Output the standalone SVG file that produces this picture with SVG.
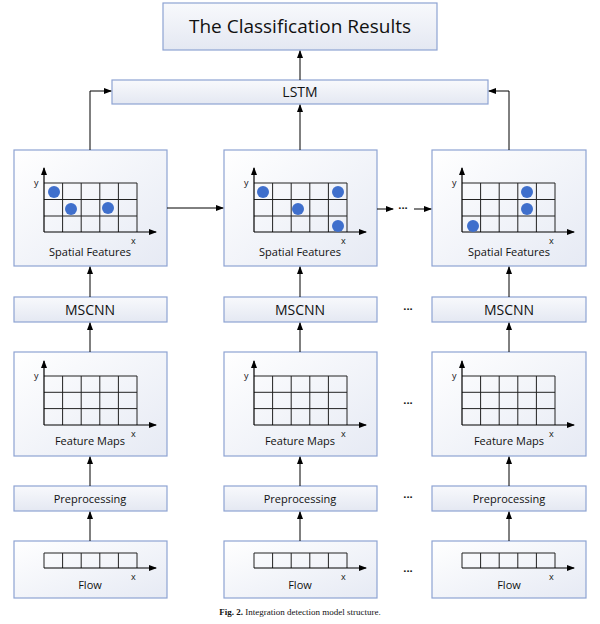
<svg xmlns="http://www.w3.org/2000/svg" width="600" height="624" viewBox="0 0 600 624">
<defs>
<linearGradient id="g" x1="0" y1="0" x2="1" y2="1"><stop offset="0" stop-color="#ffffff"/><stop offset="1" stop-color="#e6eaf4"/></linearGradient>
<linearGradient id="g2" x1="0" y1="0" x2="0" y2="1"><stop offset="0" stop-color="#f8f9fc"/><stop offset="1" stop-color="#e4e8f2"/></linearGradient>
<marker id="a" markerWidth="8" markerHeight="8" refX="7" refY="4" orient="auto" markerUnits="userSpaceOnUse"><path d="M0,1 L8,4 L0,7 Z" fill="#000"/></marker>
<g id="sgrid"><path d="M44,183 H137 M44,199.5 H137 M44,216 H137 M62.6,183 V232 M81.2,183 V232 M99.8,183 V232 M118.4,183 V232 M137,183 V232" stroke="#222" stroke-width="1" fill="none"/>
<path d="M44,232 V168" stroke="#000" stroke-width="1.2" marker-end="url(#a)"/><path d="M44,232 H156" stroke="#000" stroke-width="1.2" marker-end="url(#a)"/>
<text x="34" y="186" class="ax">y</text><text x="131" y="244" class="ax">x</text></g>
<g id="fgrid"><path d="M44,376 H137 M44,392.3 H137 M44,408.6 H137 M62.6,376 V425 M81.2,376 V425 M99.8,376 V425 M118.4,376 V425 M137,376 V425" stroke="#222" stroke-width="1" fill="none"/>
<path d="M44,425 V361" stroke="#000" stroke-width="1.2" marker-end="url(#a)"/><path d="M44,425 H156" stroke="#000" stroke-width="1.2" marker-end="url(#a)"/>
<text x="34" y="379" class="ax">y</text><text x="131" y="437" class="ax">x</text></g>
<g id="flgrid"><path d="M44,553 H137 M44,553 V568 M62.6,553 V568 M81.2,553 V568 M99.8,553 V568 M118.4,553 V568 M137,553 V568" stroke="#222" stroke-width="1" fill="none"/>
<path d="M44,568 H156" stroke="#000" stroke-width="1.2" marker-end="url(#a)"/>
<text x="131" y="580" class="ax">x</text></g>
</defs>
<style>
.b{fill:url(#g);stroke:#8ea3d3;stroke-width:1.2}
.bb{fill:url(#g2);stroke:#8ea3d3;stroke-width:1.2}
text{font-family:"Open Sans","DejaVu Sans",sans-serif;fill:#111}
.l{font-size:11px;text-anchor:middle}
.m{font-size:14px;text-anchor:middle}
.ax{font-size:9px}
.d{fill:#3f6fcc}
.c{stroke:#000;stroke-width:1;fill:none;marker-end:url(#a)}
</style>
<rect width="600" height="624" fill="#fff"/>
<g id="results"><rect x="163" y="3" width="274" height="47" class="bb"/><text x="300" y="33" style="font-size:19px;text-anchor:middle">The Classification Results</text></g>
<g id="lstm"><rect x="112" y="80" width="376" height="24" class="bb"/><text x="300" y="97" class="m">LSTM</text></g>

<g id="spatial1"><rect x="14" y="150" width="153" height="116" class="b"/><use href="#sgrid"/><circle cx="54" cy="192" r="6" class="d"/><circle cx="71" cy="209" r="6" class="d"/><circle cx="108" cy="208" r="6" class="d"/><text x="90" y="256" class="l">Spatial  Features</text></g>
<g id="spatial2"><rect x="224" y="150" width="153" height="116" class="b"/><use href="#sgrid" x="210"/><circle cx="263" cy="192" r="6" class="d"/><circle cx="298" cy="209" r="6" class="d"/><circle cx="338" cy="192" r="6" class="d"/><circle cx="338" cy="226" r="6" class="d"/><text x="300" y="256" class="l">Spatial  Features</text></g>
<g id="spatial3"><rect x="432" y="150" width="154" height="116" class="b"/><use href="#sgrid" x="418"/><circle cx="473" cy="226" r="6" class="d"/><circle cx="527" cy="192" r="6" class="d"/><circle cx="527" cy="209" r="6" class="d"/><text x="509" y="256" class="l">Spatial  Features</text></g>

<g id="mscnn1"><rect x="14" y="297" width="153" height="25" class="bb"/><text x="90" y="315" class="m">MSCNN</text></g>
<g id="mscnn2"><rect x="224" y="297" width="153" height="25" class="bb"/><text x="300" y="315" class="m">MSCNN</text></g>
<g id="mscnn3"><rect x="432" y="297" width="154" height="25" class="bb"/><text x="509" y="315" class="m">MSCNN</text></g>

<g id="fmap1"><rect x="14" y="352" width="153" height="104" class="b"/><use href="#fgrid"/><text x="90" y="445" class="l">Feature Maps</text></g>
<g id="fmap2"><rect x="224" y="352" width="153" height="104" class="b"/><use href="#fgrid" x="210"/><text x="300" y="445" class="l">Feature Maps</text></g>
<g id="fmap3"><rect x="432" y="352" width="154" height="104" class="b"/><use href="#fgrid" x="418"/><text x="509" y="445" class="l">Feature Maps</text></g>

<g id="pre1"><rect x="14" y="486" width="153" height="25" class="bb"/><text x="90" y="503" class="l">Preprocessing</text></g>
<g id="pre2"><rect x="224" y="486" width="153" height="25" class="bb"/><text x="300" y="503" class="l">Preprocessing</text></g>
<g id="pre3"><rect x="432" y="486" width="154" height="25" class="bb"/><text x="509" y="503" class="l">Preprocessing</text></g>

<g id="flow1"><rect x="14" y="541" width="153" height="57" class="b"/><use href="#flgrid"/><text x="90" y="589" class="l">Flow</text></g>
<g id="flow2"><rect x="224" y="541" width="153" height="57" class="b"/><use href="#flgrid" x="210"/><text x="300" y="589" class="l">Flow</text></g>
<g id="flow3"><rect x="432" y="541" width="154" height="57" class="b"/><use href="#flgrid" x="418"/><text x="509" y="589" class="l">Flow</text></g>

<g id="connectors">
<path d="M300,80 V51" class="c"/>
<path d="M90,150 V91 H111" class="c"/>
<path d="M300,150 V105" class="c"/>
<path d="M509,150 V91 H489" class="c"/>
<path d="M167,208 H223" class="c"/>
<path d="M377,209 H393" class="c"/>
<path d="M414,209 H431" class="c"/>
<text x="403" y="212" class="l" style="font-weight:bold">···</text>
<path d="M90,297 V267" class="c"/><path d="M300,297 V267" class="c"/><path d="M509,297 V267" class="c"/>
<path d="M90,352 V323" class="c"/><path d="M300,352 V323" class="c"/><path d="M509,352 V323" class="c"/>
<path d="M90,486 V457" class="c"/><path d="M300,486 V457" class="c"/><path d="M509,486 V457" class="c"/>
<path d="M90,541 V512" class="c"/><path d="M300,541 V512" class="c"/><path d="M509,541 V512" class="c"/>
<text x="408" y="313" class="l" style="font-weight:bold">···</text>
<text x="408" y="407" class="l" style="font-weight:bold">···</text>
<text x="408" y="501" class="l" style="font-weight:bold">···</text>
<text x="408" y="575" class="l" style="font-weight:bold">···</text>
</g>
<text x="300" y="615" style="font-family:'Liberation Serif',serif;font-size:9px;text-anchor:middle;fill:#111"><tspan font-weight="bold">Fig. 2.</tspan>  Integration detection model structure.</text>
</svg>
